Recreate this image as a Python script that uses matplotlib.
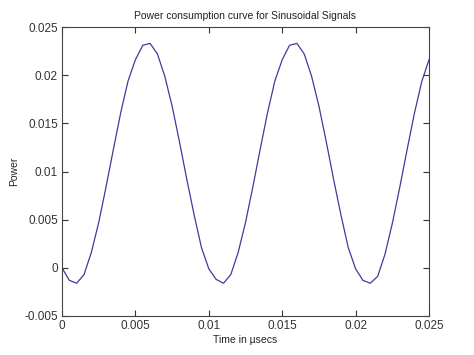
import matplotlib
matplotlib.use('Agg')
import matplotlib.pyplot as plt

plt.rcParams['font.family'] = ['Liberation Sans', 'DejaVu Sans']
plt.rcParams['axes.unicode_minus'] = False

# sampled every 0.5 ns step (0.0005 on the axis)
t = [i * 0.0005 for i in range(51)]
power = [
    0.0000, -0.0013, -0.0016, -0.0007, 0.0016, 0.0047, 0.0084, 0.0123, 0.0161, 0.0194,
    0.0216, 0.0231, 0.0233, 0.0222, 0.0199, 0.0168, 0.0131, 0.0092, 0.0055, 0.0021,
    -0.0001, -0.0012, -0.0016, -0.0007, 0.0016, 0.0047, 0.0084, 0.0123, 0.0161, 0.0194,
    0.0216, 0.0231, 0.0233, 0.0222, 0.0199, 0.0168, 0.0131, 0.0092, 0.0055, 0.0021,
    -0.0001, -0.0013, -0.0016, -0.0009, 0.0014, 0.0046, 0.0083, 0.0122, 0.0160, 0.0193,
    0.0216,
]
xticks = [0, 0.005, 0.01, 0.015, 0.02, 0.025]
xlabels = ['0', '0.005', '0.01', '0.015', '0.02', '0.025']
yticks = [-0.005, 0, 0.005, 0.01, 0.015, 0.02, 0.025]
ylabels = ['-0.005', '0', '0.005', '0.01', '0.015', '0.02', '0.025']

fig = plt.figure(figsize=(4.74, 3.55), dpi=100)
ax = fig.add_axes([62/474, 39/355, 367/474, 289/355])
ax.plot(t, power, color='#3c3c9c', lw=0.9)

ax.set_xlim(0, 0.025)
ax.set_ylim(-0.005, 0.025)
ax.set_xticks(xticks)
ax.set_xticklabels(xlabels)
ax.set_yticks(yticks)
ax.set_yticklabels(ylabels)
ax.tick_params(direction='in', length=4, width=0.8, top=True, right=True,
               labelsize=8.5, colors='#333333', pad=3)
for s in ax.spines.values():
    s.set_color('#444444')
    s.set_linewidth(0.8)

ax.set_title('Power consumption curve for Sinusoidal Signals', fontsize=7.5, color='#222222', pad=6)
ax.set_xlabel('Time in µsecs', fontsize=7.5, color='#222222', labelpad=2)
ax.set_ylabel('Power', fontsize=7.5, color='#222222', labelpad=4)

fig.savefig('out.png', dpi=100)
